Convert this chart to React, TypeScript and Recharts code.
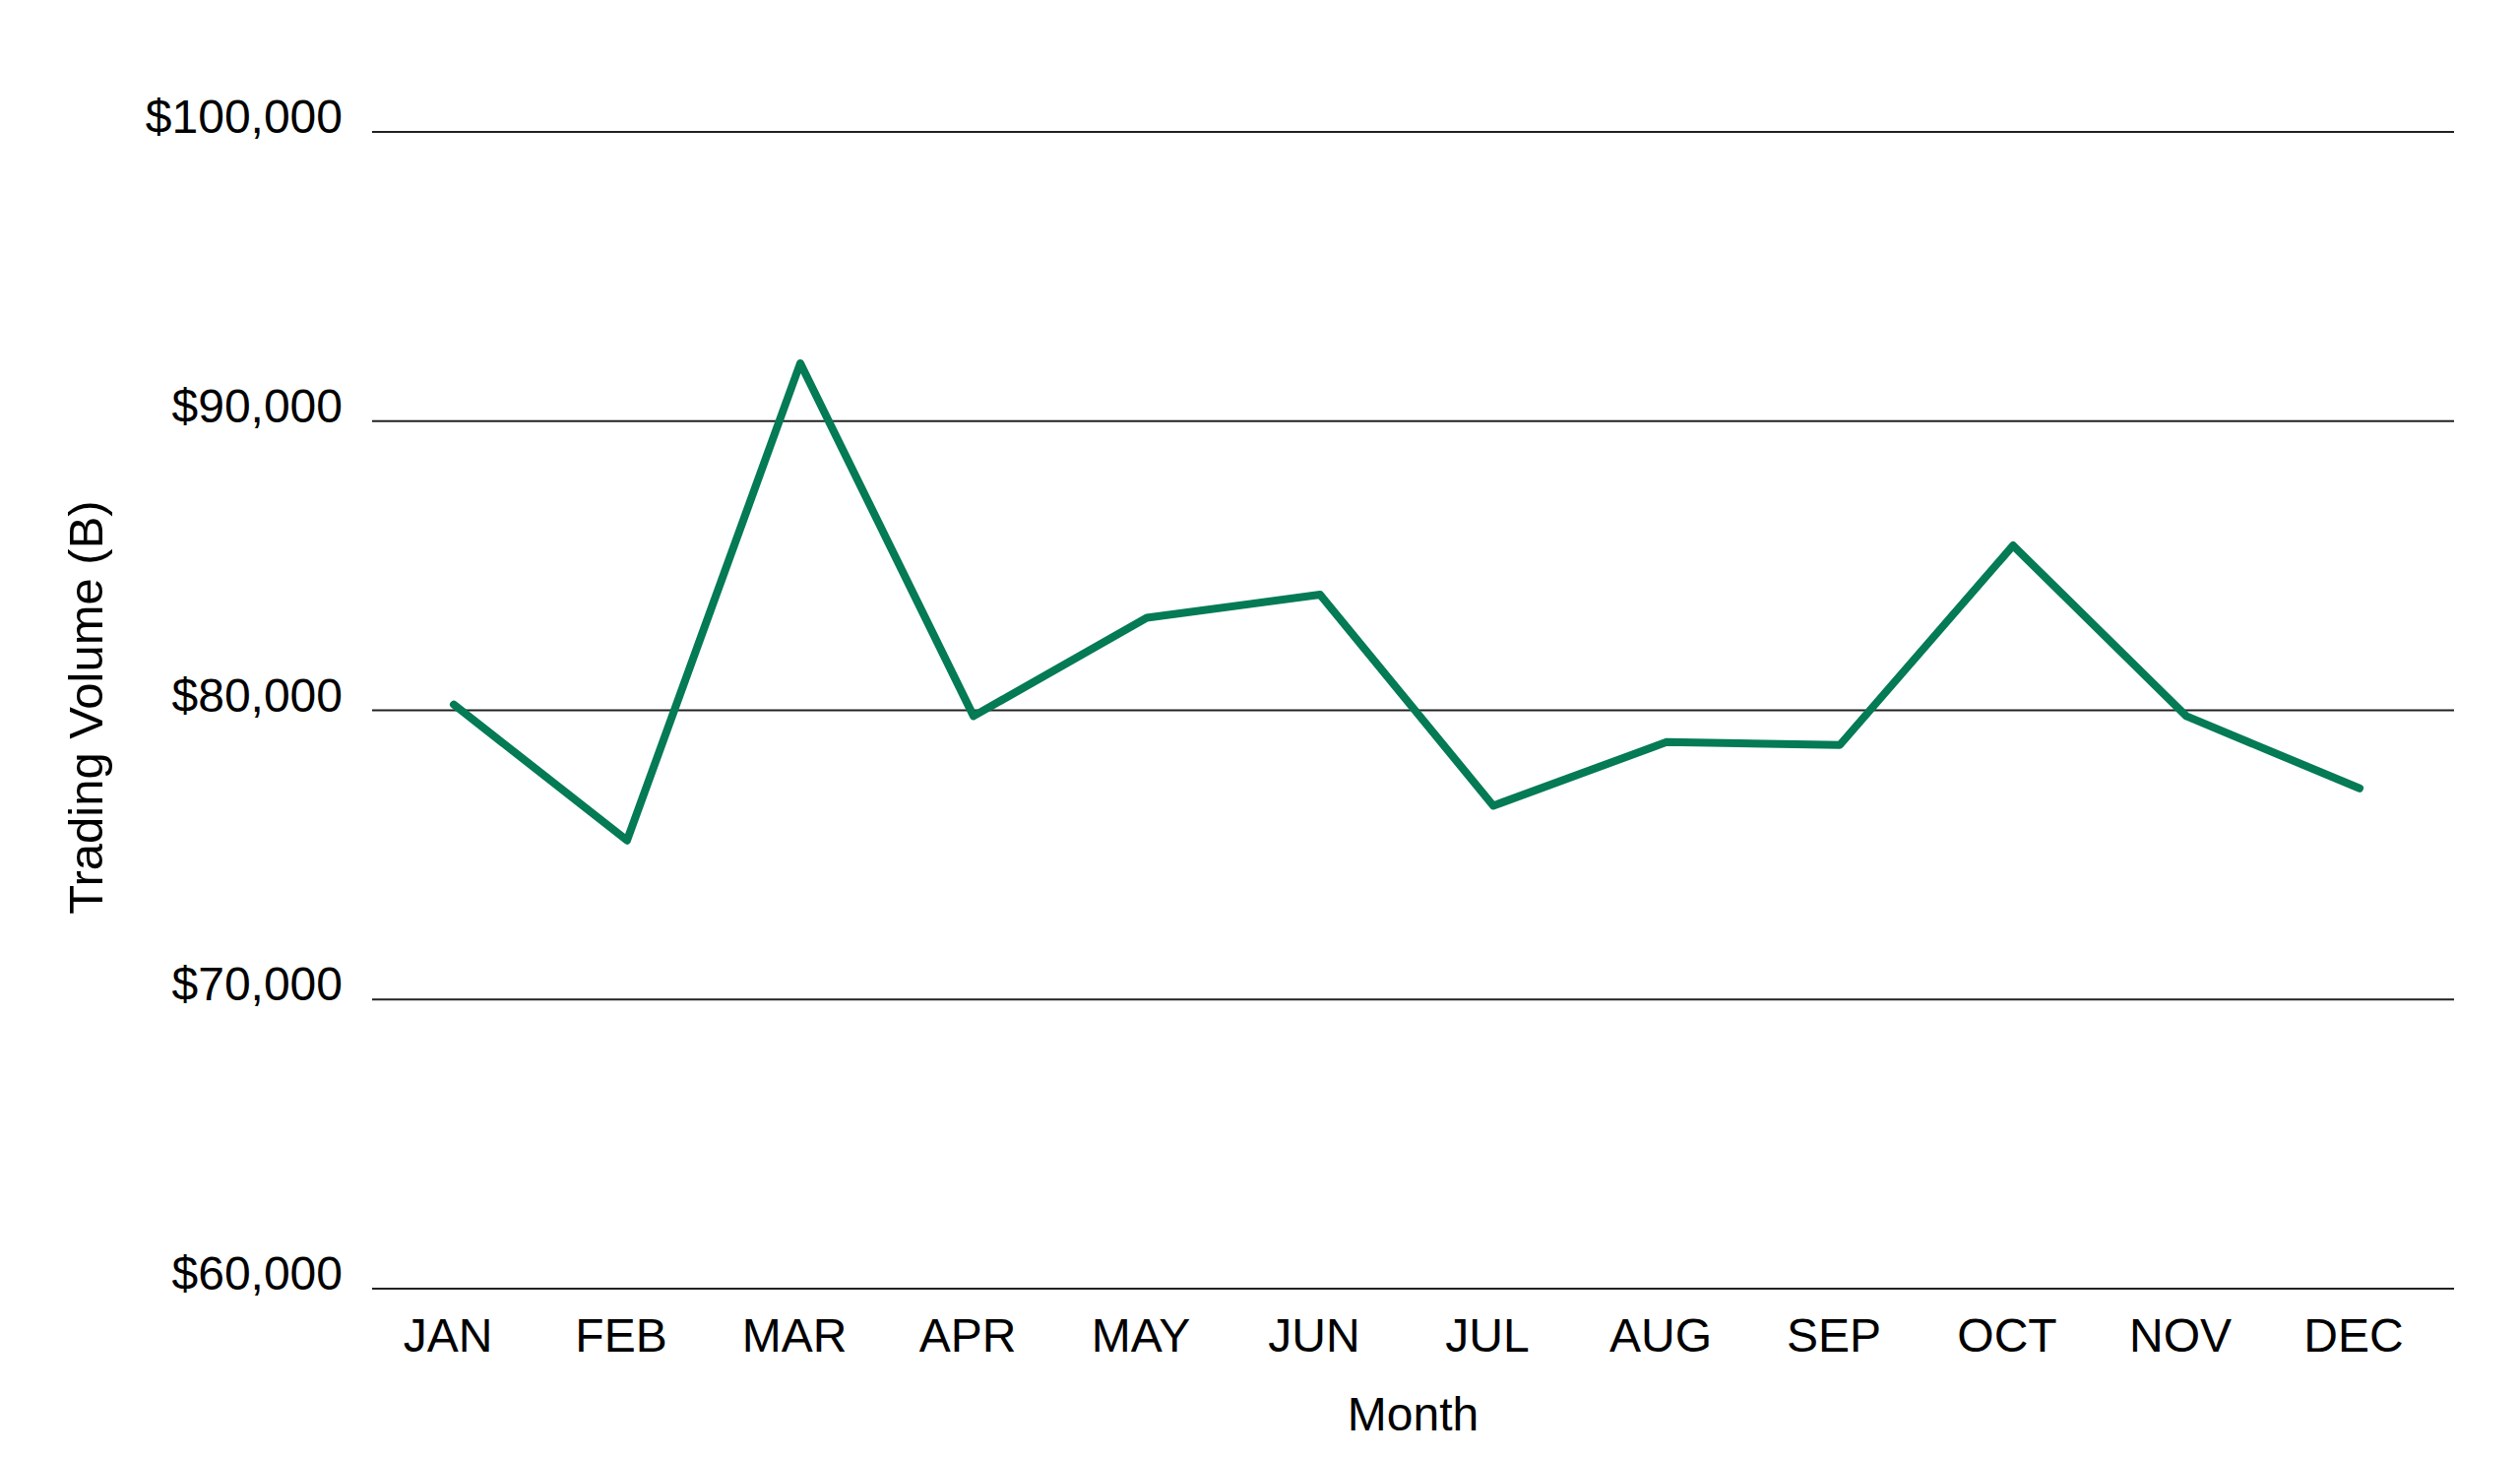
import React from "react";
import { LineChart, Line, XAxis, YAxis, CartesianGrid, Label } from "recharts";

const months = ["JAN", "FEB", "MAR", "APR", "MAY", "JUN", "JUL", "AUG", "SEP", "OCT", "NOV", "DEC"];
const volumes = [80200, 75500, 92000, 79800, 83200, 84000, 76700, 78900, 78800, 85700, 79800, 77300];
const yTicks = [60000, 70000, 80000, 90000, 100000];

const data = months.map((m, i) => ({ month: m, volume: volumes[i] }));

const FONT = "'Liberation Sans', Arial, Helvetica, sans-serif";
const fmt = (v: number) => "$" + v.toLocaleString("en-US");

const YTick = (props: any) => {
  const { x, y, payload } = props;
  return (
    <text x={x} y={y + 1} textAnchor="end" fontSize={48} fontFamily={FONT} fill="#000">
      {fmt(payload.value)}
    </text>
  );
};

const XTick = (props: any) => {
  const { x, y, payload } = props;
  return (
    <text x={x - 6} y={y} dy="0.71em" textAnchor="middle" fontSize={48} fontFamily={FONT} fill="#000">
      {payload.value}
    </text>
  );
};

const YTitle = (props: any) => {
  const vb = props.viewBox;
  const cy = vb.y + vb.height / 2 - 3;
  const cx = 104;
  return (
    <text x={cx} y={cy} transform={`rotate(-90, ${cx}, ${cy})`} textAnchor="middle" fontSize={49} fontFamily={FONT} fill="#000">
      Trading Volume (B)
    </text>
  );
};

const XTitle = (props: any) => {
  const vb = props.viewBox;
  const cx = vb.x + vb.width / 2;
  return (
    <text x={cx} y={vb.y + 144} textAnchor="middle" fontSize={48} fontFamily={FONT} fill="#000">
      Month
    </text>
  );
};

export default function App() {
  return (
    <div style={{ position: "absolute", left: 0, top: 0, width: 2560, height: 1481, background: "#fff" }}>
      <LineChart width={2560} height={1481} data={data} margin={{ top: 134, right: 67, bottom: 12, left: 0 }}>
        <CartesianGrid horizontal vertical={false} stroke="#222" strokeWidth={2} />
        <XAxis
          dataKey="month"
          height={160}
          axisLine={false}
          tickLine={false}
          tickSize={0}
          tickMargin={30}
          padding={{ left: 83, right: 96 }}
          tick={<XTick />}
          interval={0}
        >
          <Label content={<XTitle />} />
        </XAxis>
        <YAxis
          width={378}
          domain={[60000, 100000]}
          ticks={yTicks}
          type="number"
          axisLine={false}
          tickLine={false}
          tickSize={0}
          tickMargin={30}
          tick={<YTick />}
          interval={0}
        >
          <Label content={<YTitle />} />
        </YAxis>
        <Line
          type="linear"
          dataKey="volume"
          stroke="#047a55"
          strokeWidth={8}
          strokeLinejoin="round"
          strokeLinecap="round"
          dot={false}
          activeDot={false}
          isAnimationActive={false}
        />
      </LineChart>
    </div>
  );
}
